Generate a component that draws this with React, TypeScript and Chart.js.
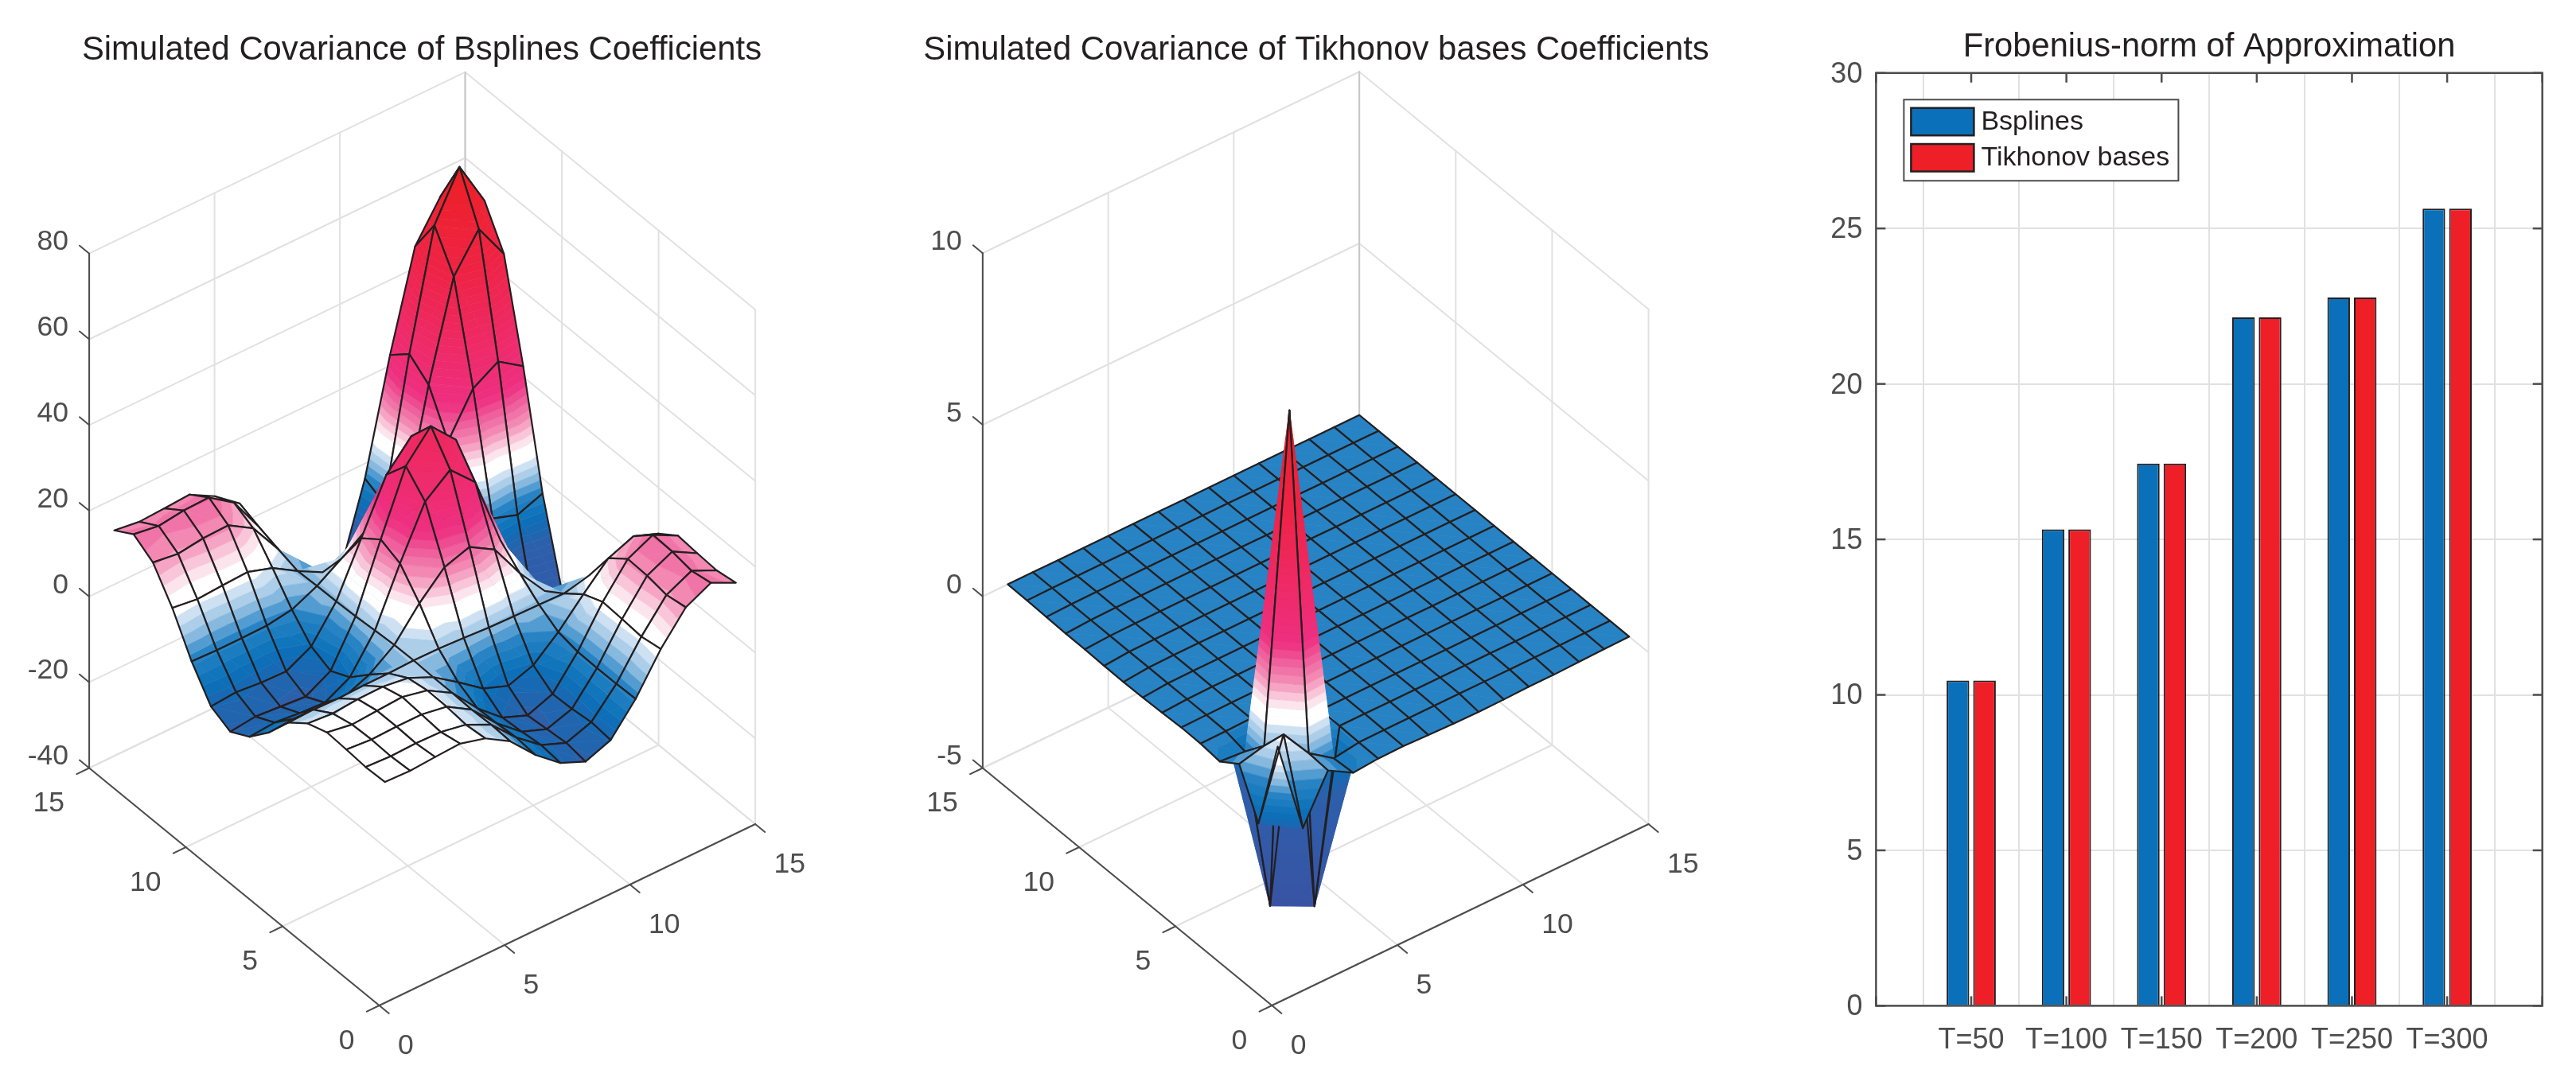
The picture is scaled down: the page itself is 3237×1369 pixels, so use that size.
import { useEffect, useRef } from "react";
import { Chart, registerables } from "chart.js";

Chart.register(...registerables);

const FIG_H = 1369;
const FONT = '"Liberation Sans", Arial, sans-serif';
const INK = "#231f20";
const AXIS = "#4d4d4d";
const GRID = "#e1e1e1";

// covariance surfaces, rows are y = 1..15, columns x = 1..15
const bsplineCov = [
  [5.6, 5.4, 5.8, 6.1, 4.5, 1.0, -5.0, -9.7, -12.2, -10.0, -3.2, 5.6, 12.5, 15.4, 12.6],
  [5.4, 5.1, 5.3, 5.1, 4.0, 1.2, -4.6, -9.2, -11.5, -9.5, -3.4, 4.8, 11.7, 14.5, 11.8],
  [5.8, 5.3, 5.5, 5.5, 4.5, 1.0, -5.0, -9.8, -12.0, -10.1, -3.4, 5.2, 12.5, 15.3, 12.1],
  [6.1, 5.1, 5.5, 5.9, 4.6, 1.2, -5.2, -10.2, -12.5, -10.3, -3.3, 5.5, 12.7, 15.5, 12.5],
  [4.5, 4.0, 4.5, 4.6, 3.8, 1.2, -2.8, -7.1, -9.3, -7.3, -2.4, 3.6, 9.2, 11.5, 9.3],
  [1.0, 1.2, 1.0, 1.2, 1.2, 1.4, 1.3, 1.0, 0.6, 0.4, 0.3, 0.1, 1.5, 3.0, 4.8],
  [-5.0, -4.6, -5.0, -5.2, -2.8, 1.3, 8.2, 13.8, 15.7, 12.3, 4.0, -3.0, -8.0, -11.0, -9.0],
  [-9.7, -9.2, -9.8, -10.2, -7.1, 1.0, 13.8, 25.4, 30.0, 24.3, 8.0, -8.0, -19.0, -24.0, -20.0],
  [-12.2, -11.5, -12.0, -12.5, -9.3, 0.6, 15.7, 30.0, 36.5, 30.5, 9.0, -11.0, -26.0, -31.0, -26.0],
  [-10.0, -9.5, -10.1, -10.3, -7.3, 0.4, 12.3, 24.3, 30.5, 25.0, 7.0, -10.0, -23.0, -28.0, -22.5],
  [-3.2, -3.4, -3.4, -3.3, -2.4, 0.3, 4.0, 8.0, 9.0, 7.0, 2.0, -3.0, -3.7, -5.7, -3.5],
  [5.6, 4.8, 5.2, 5.5, 3.6, 0.1, -3.0, -8.0, -11.0, -10.0, -3.0, 13.4, 22.9, 26.4, 22.5],
  [12.5, 11.7, 12.5, 12.7, 9.2, 1.5, -8.0, -19.0, -26.0, -23.0, -3.7, 22.9, 45.3, 53.6, 45.0],
  [15.4, 14.5, 15.3, 15.5, 11.5, 3.0, -11.0, -24.0, -31.0, -28.0, -5.7, 26.4, 53.6, 64.4, 53.7],
  [12.6, 11.8, 12.1, 12.5, 9.3, 4.8, -9.0, -20.0, -26.0, -22.5, -3.5, 22.5, 45.0, 53.7, 45.0],
];

const tikhonovCov = [
  [1.73, -1.0, 0.33, -0.09, -0.03, -0.02, -0.05, -0.07, -0.08, -0.07, -0.05, -0.05, -0.03, -0.01, 0],
  [-0.97, 1.27, 0.37, -0.13, -0.02, -0.01, -0.01, -0.01, -0.01, -0.01, -0.01, -0.01, -0.01, 0, 0],
  [0.3, 0.48, 9.9, -4.9, 0, 0, 0, 0, 0, 0, 0, 0, 0, 0, 0],
  [-0.09, -0.15, -5.0, 1.2, 0, 0, 0, 0, 0, 0, 0, 0, 0, 0, 0],
  [-0.03, -0.02, 0, 0, 0, 0, 0, 0, 0, 0, 0, 0, 0, 0, 0],
  [-0.02, -0.01, 0, 0, 0, 0, 0, 0, 0, 0, 0, 0, 0, 0, 0],
  [-0.05, -0.01, 0, 0, 0, 0, 0, 0, 0, 0, 0, 0, 0, 0, 0],
  [-0.07, -0.01, 0, 0, 0, 0, 0, 0, 0, 0, 0, 0, 0, 0, 0],
  [-0.08, -0.01, 0, 0, 0, 0, 0, 0, 0, 0, 0, 0, 0, 0, 0],
  [-0.07, -0.01, 0, 0, 0, 0, 0, 0, 0, 0, 0, 0, 0, 0, 0],
  [-0.05, -0.01, 0, 0, 0, 0, 0, 0, 0, 0, 0, 0, 0, 0, 0],
  [-0.05, -0.01, 0, 0, 0, 0, 0, 0, 0, 0, 0, 0, 0, 0, 0],
  [-0.03, -0.01, 0, 0, 0, 0, 0, 0, 0, 0, 0, 0, 0, 0, 0],
  [-0.01, 0, 0, 0, 0, 0, 0, 0, 0, 0, 0, 0, 0, 0, 0],
  [0, 0, 0, 0, 0, 0, 0, 0, 0, 0, 0, 0, 0, 0, 0],
];

const planeTicks = [0, 5, 10, 15];
const bsplineZTicks = [-40, -20, 0, 20, 40, 60, 80];
const tikhonovZTicks = [-5, 0, 5, 10];

const barLabels = ["", "T=50", "T=100", "T=150", "T=200", "T=250", "T=300", ""];
const bsplineNorm = [null, 10.46, 15.32, 17.44, 22.14, 22.78, 25.64, null];
const tikhonovNorm = [null, 10.46, 15.32, 17.44, 22.14, 22.78, 25.64, null];

// colormap stops: position in the colour range, colour
const mapStops: [number, number[]][] = [
  [0, [57, 83, 164]],
  [0.243, [44, 96, 171]],
  [0.295, [10, 112, 185]],
  [0.34, [42, 133, 197]],
  [0.364, [127, 181, 221]],
  [0.393, [197, 220, 240]],
  [0.408, [220, 235, 248]],
  [0.414, [255, 255, 255]],
  [0.432, [255, 255, 255]],
  [0.45, [251, 219, 231]],
  [0.487, [244, 143, 182]],
  [0.516, [239, 106, 163]],
  [0.56, [238, 47, 128]],
  [0.66, [238, 42, 104]],
  [0.8, [238, 36, 72]],
  [1, [237, 31, 36]],
];

const LEVELS = 64;

function levelColor(k: number) {
  const t = (k + 0.5) / LEVELS;
  let i = 0;
  while (i < mapStops.length - 2 && t > mapStops[i + 1][0]) i++;
  const [t0, c0] = mapStops[i];
  const [t1, c1] = mapStops[i + 1];
  const f = Math.min(1, Math.max(0, (t - t0) / (t1 - t0)));
  const c = c0.map((v, n) => Math.round(v + (c1[n] - v) * f));
  return `rgb(${c[0]},${c[1]},${c[2]})`;
}

type V3 = number[];

// keep the part of a polygon on one side of a height
function clipHeight(poly: V3[], limit: number, sign: number) {
  const out: V3[] = [];
  poly.forEach((p, i) => {
    const q = poly[(i + 1) % poly.length];
    const a = (p[2] - limit) * sign;
    const b = (q[2] - limit) * sign;
    if (a >= 0) out.push(p);
    if (a >= 0 !== b >= 0) {
      const f = a / (a - b);
      out.push([p[0] + (q[0] - p[0]) * f, p[1] + (q[1] - p[1]) * f, p[2] + (q[2] - p[2]) * f]);
    }
  });
  return out;
}

function surfacePlugin(p: any) {
  const project = (X: number, Y: number, z: number) => ({
    x: p.origin[0] + X * p.xStep[0] + Y * p.yStep[0],
    y: p.origin[1] + X * p.xStep[1] + Y * p.yStep[1] - (z - p.zTicks[0]) * p.zUnit,
  });

  return {
    id: "surface",
    beforeDatasetsDraw(chart: any) {
      const ctx = chart.ctx;
      const px = (X: number, Y: number, z: number) => {
        const v = project(X, Y, z);
        return [chart.scales.x.getPixelForValue(v.x), chart.scales.y.getPixelForValue(v.y)];
      };
      const line = (a: number[], b: number[]) => {
        ctx.beginPath();
        ctx.moveTo(a[0], a[1]);
        ctx.lineTo(b[0], b[1]);
        ctx.stroke();
      };
      const zLow = p.zTicks[0];
      const zTop = p.zTicks[p.zTicks.length - 1];

      ctx.save();
      ctx.lineCap = "round";
      ctx.strokeStyle = GRID;
      ctx.lineWidth = 2;
      planeTicks.forEach((t) => {
        line(px(t, 0, zLow), px(t, 15, zLow));
        line(px(0, t, zLow), px(15, t, zLow));
        line(px(t, 15, zLow), px(t, 15, zTop));
        line(px(15, t, zLow), px(15, t, zTop));
      });
      p.zTicks.forEach((z: number) => {
        line(px(0, 15, z), px(15, 15, z));
        line(px(15, 0, z), px(15, 15, z));
      });
      ctx.strokeStyle = "#c9c9c9";
      line(px(15, 15, zLow), px(15, 15, zTop));

      ctx.strokeStyle = AXIS;
      ctx.lineWidth = 2;
      line(px(0, 15, zLow), px(0, 15, zTop));
      line(px(0, 0, zLow), px(15, 0, zLow));
      line(px(0, 0, zLow), px(0, 15, zLow));

      ctx.fillStyle = AXIS;
      ctx.font = `35.5px ${FONT}`;
      ctx.textBaseline = "middle";
      p.zTicks.forEach((z: number) => {
        const a = px(0, 15, z);
        line(a, px(0, 15.5, z));
        ctx.textAlign = "right";
        ctx.fillText(String(z), a[0] - 26, a[1] - 14);
      });
      planeTicks.forEach((t) => {
        const a = px(t, 0, zLow);
        line(a, px(t, -0.5, zLow));
        ctx.textAlign = "left";
        ctx.fillText(String(t), a[0] + 23.5, a[1] + 51);
        const b = px(0, t, zLow);
        line(b, px(-0.5, t, zLow));
        ctx.textAlign = "right";
        ctx.fillText(String(t), b[0] - 31, b[1] + 45);
      });

      ctx.fillStyle = INK;
      ctx.font = `41.8px ${FONT}`;
      ctx.textAlign = "center";
      ctx.textBaseline = "alphabetic";
      const titleBase = chart.scales.x.getPixelForValue(p.titleAt);
      ctx.fillText(p.title, titleBase, chart.scales.y.getPixelForValue(75));

      // back to front over the grid, so nearer cells hide farther ones
      const Z = p.values;
      const colors = Array.from({ length: LEVELS }, (_, k) => levelColor(k));
      const fillTri = (tri: V3[]) => {
        const zs = tri.map((v) => v[2]);
        const toLevel = (z: number) => ((z - p.cMin) / (p.cMax - p.cMin)) * LEVELS;
        const k0 = Math.max(0, Math.floor(toLevel(Math.min(...zs))));
        const k1 = Math.min(LEVELS - 1, Math.floor(toLevel(Math.max(...zs))));
        for (let k = k0; k <= k1; k++) {
          const lo = p.cMin + (k / LEVELS) * (p.cMax - p.cMin);
          const hi = p.cMin + ((k + 1) / LEVELS) * (p.cMax - p.cMin);
          let poly = tri;
          if (k > k0) poly = clipHeight(poly, lo, 1);
          if (k < k1) poly = clipHeight(poly, hi, -1);
          if (poly.length < 3) continue;
          ctx.beginPath();
          poly.forEach((v, i) => {
            const q = px(v[0], v[1], v[2]);
            if (i === 0) ctx.moveTo(q[0], q[1]);
            else ctx.lineTo(q[0], q[1]);
          });
          ctx.closePath();
          ctx.fillStyle = colors[k];
          ctx.strokeStyle = colors[k];
          ctx.lineWidth = 0.7;
          ctx.fill();
          ctx.stroke();
        }
      };
      for (let X = 14; X >= 1; X--) {
        for (let Y = 14; Y >= 1; Y--) {
          const a = [X, Y, Z[Y - 1][X - 1]];
          const b = [X + 1, Y, Z[Y - 1][X]];
          const c = [X + 1, Y + 1, Z[Y][X]];
          const d = [X, Y + 1, Z[Y][X - 1]];
          fillTri([c, d, b]);
          fillTri([a, b, d]);
          ctx.beginPath();
          [a, b, c, d].forEach((v, i) => {
            const q = px(v[0], v[1], v[2]);
            if (i === 0) ctx.moveTo(q[0], q[1]);
            else ctx.lineTo(q[0], q[1]);
          });
          ctx.closePath();
          ctx.strokeStyle = INK;
          ctx.lineWidth = 2.2;
          ctx.lineJoin = "round";
          ctx.stroke();
        }
      }
      ctx.restore();
    },
  };
}

function SurfacePanel({ panel }: { panel: any }) {
  const ref = useRef<HTMLCanvasElement>(null);

  useEffect(() => {
    if (!ref.current) return;
    const chart = new Chart(ref.current, {
      type: "scatter",
      data: { datasets: [{ data: [], pointRadius: 0 }] },
      options: {
        responsive: false,
        animation: false,
        devicePixelRatio: 1,
        layout: { padding: 0 },
        plugins: { legend: { display: false }, tooltip: { enabled: false } },
        scales: {
          x: { type: "linear", display: false, min: panel.left, max: panel.left + panel.width },
          y: { type: "linear", display: false, min: 0, max: FIG_H, reverse: true },
        },
      },
      plugins: [surfacePlugin(panel)],
    } as any);
    return () => chart.destroy();
  }, [panel]);

  return (
    <canvas
      ref={ref}
      width={panel.width}
      height={FIG_H}
      style={{ position: "absolute", left: panel.left, top: 0 }}
    />
  );
}

const barFrame = {
  id: "barFrame",
  beforeDatasetsDraw(chart: any) {
    const { ctx, chartArea: a, scales } = chart;
    ctx.save();
    ctx.strokeStyle = AXIS;
    ctx.lineWidth = 2.5;
    const tick = (x0: number, y0: number, x1: number, y1: number) => {
      ctx.beginPath();
      ctx.moveTo(x0, y0);
      ctx.lineTo(x1, y1);
      ctx.stroke();
    };
    barLabels.forEach((_, i) => {
      const x = scales.x.getPixelForValue(i);
      tick(x, a.top, x, a.top + 12);
      tick(x, a.bottom, x, a.bottom - 12);
    });
    scales.y.ticks.forEach((t: any) => {
      const y = scales.y.getPixelForValue(t.value);
      tick(a.left, y, a.left + 12, y);
      tick(a.right, y, a.right - 12, y);
    });
    ctx.restore();
  },
  afterDatasetsDraw(chart: any) {
    const { ctx, chartArea: a, data } = chart;
    ctx.save();
    ctx.strokeStyle = AXIS;
    ctx.lineWidth = 2.5;
    ctx.strokeRect(a.left, a.top, a.right - a.left, a.bottom - a.top);

    // legend box, upper left of the axes
    const boxX = a.left + 35;
    const boxY = a.top + 33.5;
    ctx.fillStyle = "#fff";
    ctx.lineWidth = 2;
    ctx.fillRect(boxX, boxY, 345, 102);
    ctx.strokeRect(boxX, boxY, 345, 102);
    data.datasets.forEach((d: any, i: number) => {
      const y = boxY + 10.5 + i * 45.3;
      ctx.fillStyle = d.backgroundColor;
      ctx.strokeStyle = INK;
      ctx.lineWidth = 2.5;
      ctx.fillRect(boxX + 9, y, 79, 34.5);
      ctx.strokeRect(boxX + 9, y, 79, 34.5);
      ctx.fillStyle = INK;
      ctx.font = `34px ${FONT}`;
      ctx.textAlign = "left";
      ctx.textBaseline = "middle";
      ctx.fillText(d.label, boxX + 97, y + 18);
    });
    ctx.restore();
  },
};

function BarPanel() {
  const ref = useRef<HTMLCanvasElement>(null);

  useEffect(() => {
    if (!ref.current) return;
    const tickFont = { family: FONT, size: 36 };
    const chart = new Chart(ref.current, {
      type: "bar",
      data: {
        labels: barLabels,
        datasets: [
          {
            label: "Bsplines",
            data: bsplineNorm,
            backgroundColor: "#0a70b9",
            borderColor: INK,
            borderWidth: 2,
            categoryPercentage: 0.5585,
            barPercentage: 0.85,
          },
          {
            label: "Tikhonov bases",
            data: tikhonovNorm,
            backgroundColor: "#ee1f27",
            borderColor: INK,
            borderWidth: 2,
            categoryPercentage: 0.5585,
            barPercentage: 0.85,
          },
        ],
      },
      options: {
        responsive: false,
        animation: false,
        devicePixelRatio: 1,
        layout: { padding: { right: 42.3, top: 0, left: 0, bottom: 0 } },
        plugins: {
          legend: { display: false },
          tooltip: { enabled: false },
          title: {
            display: true,
            text: "Frobenius-norm of Approximation",
            fullSize: false,
            color: INK,
            font: { family: FONT, size: 41.7, weight: "normal" },
            padding: { top: 34, bottom: 7.7 },
          },
        },
        scales: {
          x: {
            offset: false,
            grid: { color: GRID, lineWidth: 2, drawTicks: false },
            border: { display: false },
            ticks: { color: AXIS, font: tickFont, padding: 22, maxRotation: 0, autoSkip: false },
            afterFit: (s: any) => {
              s.height = 104.6;
            },
          },
          y: {
            min: 0,
            max: 30,
            grid: { color: GRID, lineWidth: 2, drawTicks: false },
            border: { display: false },
            ticks: { color: AXIS, font: tickFont, stepSize: 5, padding: 17, labelOffset: 2 },
            afterFit: (s: any) => {
              s.width = 157.4;
            },
          },
        },
      },
      plugins: [barFrame],
    } as any);
    return () => chart.destroy();
  }, []);

  return <canvas ref={ref} width={1037} height={FIG_H} style={{ position: "absolute", left: 2200, top: 0 }} />;
}

const bsplinePanel = {
  title: "Simulated Covariance of Bsplines Coefficients",
  titleAt: 530,
  left: 0,
  width: 1090,
  values: bsplineCov,
  zTicks: bsplineZTicks,
  cMin: -37,
  cMax: 64.4,
  origin: [476.6, 1264],
  xStep: [31.5, -15.2],
  yStep: [-24.3, -19.9],
  zUnit: 5.39,
};

const tikhonovPanel = {
  title: "Simulated Covariance of Tikhonov bases Coefficients",
  titleAt: 1654,
  left: 1090,
  width: 1110,
  values: tikhonovCov,
  zTicks: tikhonovZTicks,
  cMin: -5,
  cMax: 10,
  origin: [1598.3, 1264],
  xStep: [31.55, -15.2],
  yStep: [-24.23, -19.9],
  zUnit: 43.15,
};

export default function App() {
  useEffect(() => {
    document.body.style.margin = "0";
    document.body.style.background = "#fff";
  }, []);

  return (
    <div style={{ position: "relative", width: 3237, height: FIG_H, overflow: "hidden" }}>
      <SurfacePanel panel={bsplinePanel} />
      <SurfacePanel panel={tikhonovPanel} />
      <BarPanel />
    </div>
  );
}
